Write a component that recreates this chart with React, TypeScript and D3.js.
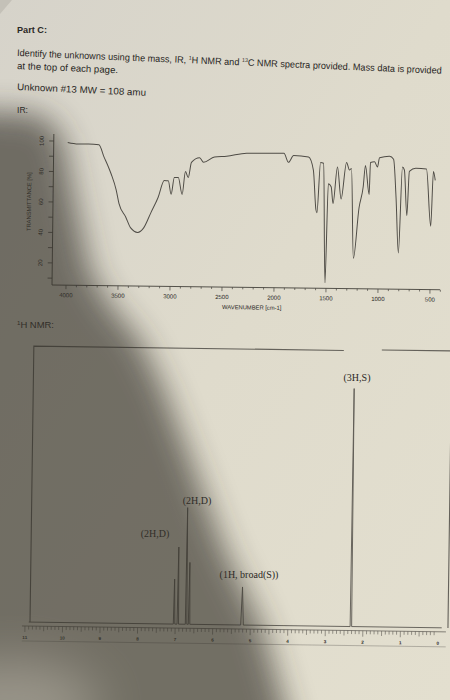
import React from 'react';
import * as d3 from 'd3';

// ---------- IR data (wavenumber cm-1, transmittance %) ----------
const irWavenumber = [4000, 3900, 3800, 3700, 3650, 3606, 3577, 3529, 3500, 3433, 3385, 3317, 3260, 3192, 3125, 3067, 3029, 3000, 2971, 2933, 2894, 2865, 2837, 2808, 2730, 2692, 2587, 2471, 2279, 2058, 1920, 1875, 1827, 1683, 1635, 1606, 1596, 1567, 1538, 1510, 1490, 1462, 1442, 1404, 1365, 1317, 1288, 1269, 1240, 1192, 1154, 1135, 1096, 1087, 1048, 1019, 1000, 904, 865, 837, 808, 779, 760, 731, 712, 650, 548, 500, 481, 462];
const irTransmittance = [99.1, 98.2, 98.3, 97.9, 90, 83.4, 78.5, 68.5, 59.5, 50.6, 43.6, 40.7, 43.7, 53.8, 63.8, 74.9, 74.9, 66, 77, 77, 66, 81, 77.1, 87.1, 90.2, 87.2, 90.8, 91.4, 93.5, 93.7, 93.8, 87.9, 92.4, 91.5, 83, 57, 55, 88.1, 87.6, 9.2, 74.2, 72.2, 61.2, 85.3, 64.3, 88.3, 83.3, 84.4, 25.4, 58.5, 72.5, 86.5, 67.5, 88.5, 89, 85.6, 91.6, 92.7, 90.7, 65.7, 29.3, 85.8, 83.8, 53.9, 82.9, 85, 84.6, 47.1, 83.1, 77.2];
const irYTickLabels = [20, 40, 60, 80, 100];
const irYMinorTicks = [10, 20, 30, 40, 50, 60, 70, 80, 90, 100];
const irXTickLabels = [4000, 3500, 3000, 2500, 2000, 1500, 1000, 500];

// ---------- 1H NMR data (ppm, relative height) ----------
const nmrPeakPpm = [7.03, 6.93, 6.71, 6.63, 5.22, 2.32];
const nmrPeakHeight = [18.9, 32.4, 49, 26, 16, 100];
const nmrPeakHalfWidth = [0.02, 0.02, 0.02, 0.02, 0.035, 0.02];
const nmrTickLabels = [11, 10, 9, 8, 7, 6, 5, 4, 3, 2, 1, 0];
const nmrAnnotations = ['(3H,S)', '(2H,D)', '(2H,D)', '(1H, broad(S))'];

export default function App() {
  // IR scales
  const irX = d3.scaleLinear().domain([4000, 500]).range([66, 430]);
  const irY = d3.scaleLinear().domain([5.5, 100]).range([285, 141]);
  const irPts: [number, number][] = irWavenumber.map((w, i) => [w, irTransmittance[i]]);
  const irLine = d3.line<[number, number]>().x(d => irX(d[0])).y(d => irY(d[1])).curve(d3.curveMonotoneX);
  const irMinorX = d3.range(4000, 399, -100);

  // NMR scales
  const nmrX = d3.scaleLinear().domain([11, 0]).range([25, 438]);
  const nmrY = d3.scaleLinear().domain([0, 100]).range([622, 384]);
  const order = d3.range(nmrPeakPpm.length).sort((a, b) => nmrPeakPpm[b] - nmrPeakPpm[a]);
  const specPts: [number, number][] = [[10.9, 0]];
  order.forEach(i => {
    specPts.push([nmrPeakPpm[i] + nmrPeakHalfWidth[i], 0]);
    specPts.push([nmrPeakPpm[i], nmrPeakHeight[i]]);
    specPts.push([nmrPeakPpm[i] - nmrPeakHalfWidth[i], 0]);
  });
  specPts.push([-0.1, 0]);
  const nmrLine = d3.line<[number, number]>().x(d => nmrX(d[0])).y(d => nmrY(d[1]));
  const nmrMinor = d3.range(0, 110, 1).map(v => 11 - v / 10);

  const ink = '#45423c';
  const text = '#2a2825';
  const sans = "'Liberation Sans', Arial, sans-serif";
  const serif = "'Liberation Serif', 'Times New Roman', serif";

  return (
    <svg width={450} height={700} style={{ position: 'absolute', left: 0, top: 0 }} xmlns="http://www.w3.org/2000/svg">
      <defs>
        <filter id="blur" x="-30%" y="-30%" width="160%" height="160%">
          <feGaussianBlur stdDeviation="15" />
        </filter>
        <filter id="blur2" x="-50%" y="-50%" width="200%" height="200%">
          <feGaussianBlur stdDeviation="25" />
        </filter>
        <linearGradient id="paper" x1="0" y1="0" x2="1" y2="1">
          <stop offset="0" stopColor="#d6d3ca" />
          <stop offset="0.5" stopColor="#dfdbcc" />
          <stop offset="1" stopColor="#e3dfcf" />
        </linearGradient>
      </defs>
      <rect x={0} y={0} width={450} height={700} fill="url(#paper)" />
      <polygon points="0,0 12,0 0,14" fill="#c4c1b8" />

      {/* Header text */}
      <text x={17} y={33} fontFamily={sans} fontSize={8.5} fontWeight="bold" fill={text} textLength={30} lengthAdjust="spacingAndGlyphs">Part C:</text>
      <g transform="rotate(2.4,17,56)">
        <text x={17} y={56} fontFamily={sans} fontSize={9.5} fill={text} textLength={425} lengthAdjust="spacingAndGlyphs">
          Identify the unknowns using the mass, IR, <tspan fontSize={5.5} dy={-3.5}>1</tspan><tspan dy={3.5}>H NMR and </tspan><tspan fontSize={5.5} dy={-3.5}>13</tspan><tspan dy={3.5}>C NMR spectra provided. Mass data is provided</tspan>
        </text>
      </g>
      <g transform="rotate(2.4,17,69)">
        <text x={17} y={69} fontFamily={sans} fontSize={9.5} fill={text} textLength={101} lengthAdjust="spacingAndGlyphs">at the top of each page.</text>
      </g>
      <g transform="rotate(2.6,17,90)">
        <text x={17} y={90} fontFamily={sans} fontSize={9.5} fill={text} textLength={129} lengthAdjust="spacingAndGlyphs">Unknown #13 MW = 108 amu</text>
      </g>
      <text x={17} y={113} fontFamily={sans} fontSize={8.5} fill={text} textLength={11} lengthAdjust="spacingAndGlyphs">IR:</text>

      {/* IR chart */}
      <g transform="rotate(0.7,52,285)">
        <line x1={52} x2={52} y1={134} y2={285} stroke={ink} strokeWidth={0.9} />
        <line x1={52} x2={440} y1={285} y2={285} stroke={ink} strokeWidth={0.9} />
        {irYMinorTicks.map(t => (
          <line key={'yt' + t} x1={47.5} x2={52} y1={irY(t)} y2={irY(t)} stroke={ink} strokeWidth={0.8} />
        ))}
        {irYTickLabels.map(t => (
          <text key={'yl' + t} transform={`translate(42,${irY(t)}) rotate(-90)`} textAnchor="middle" fontFamily={sans} fontSize={6} fill={text}>{t}</text>
        ))}
        <text transform={`translate(30,${irY(60)}) rotate(-90)`} textAnchor="middle" fontFamily={sans} fontSize={5.8} fill={text}>TRANSMITTANCE [%]</text>
        {irMinorX.map(w => (
          <line key={'xm' + w} x1={irX(w)} x2={irX(w)} y1={285} y2={w % 500 === 0 ? 289 : 287} stroke={ink} strokeWidth={0.7} />
        ))}
        {irXTickLabels.map(w => (
          <text key={'xl' + w} x={irX(w)} y={297} textAnchor="middle" fontFamily={sans} fontSize={6} fill={text}>{w}</text>
        ))}
        <text x={252} y={307} textAnchor="middle" fontFamily={sans} fontSize={5.8} fill={text}>WAVENUMBER [cm-1]</text>
        <path d={irLine(irPts) || ''} fill="none" stroke="#4f4c46" strokeWidth={1} />
      </g>

      <text x={17} y={328} fontFamily={sans} fontSize={8.5} fill={text} textLength={37} lengthAdjust="spacingAndGlyphs">
        <tspan fontSize={5.5} dy={-3.5}>1</tspan><tspan dy={3.5}>H NMR:</tspan>
      </text>

      {/* NMR chart */}
      <g transform="rotate(0.8,25,622)">
        <polyline points="30,622 30,346 340,346" fill="none" stroke="#64615a" strokeWidth={1.1} />
        <polyline points="378,345 448,345 448,622" fill="none" stroke="#64615a" strokeWidth={1.1} />
        <path d={nmrLine(specPts) || ''} fill="none" stroke="#5c5952" strokeWidth={0.9} />
        <line x1={22} x2={446} y1={626} y2={626} stroke="#6a665f" strokeWidth={0.8} />
        <line x1={22} x2={446} y1={641} y2={641} stroke="#8e8a82" strokeWidth={0.6} />
        {nmrMinor.map((v, i) => (
          <line key={'nm' + i} x1={nmrX(v)} x2={nmrX(v)} y1={626} y2={i % 10 === 0 ? 632 : i % 5 === 0 ? 631 : 629.5} stroke="#5d5a54" strokeWidth={0.6} />
        ))}
        {nmrTickLabels.map(t => (
          <text key={'nl' + t} x={nmrX(t)} y={639} textAnchor="middle" fontFamily={sans} fontSize={4.5} fontWeight="bold" fill={text}>{t}</text>
        ))}
      </g>
      <text x={357} y={381} textAnchor="middle" fontFamily={serif} fontSize={10} fill={text}>{nmrAnnotations[0]}</text>
      <text x={197} y={504} textAnchor="middle" fontFamily={serif} fontSize={10} fill={text}>{nmrAnnotations[1]}</text>
      <text x={155} y={537} textAnchor="middle" fontFamily={serif} fontSize={10} fill={text}>{nmrAnnotations[2]}</text>
      <text x={249} y={578} textAnchor="middle" fontFamily={serif} fontSize={10} fill={text}>{nmrAnnotations[3]}</text>

      {/* photo shadow */}
      <polygon
        points="-40,110 40,114 62,135 75,200 90,270 110,305 140,340 162,385 195,470 225,550 262,625 295,740 -40,740"
        fill="#35332c" opacity={0.64} filter="url(#blur)"
      />
      <ellipse cx={10} cy={705} rx={90} ry={45} fill="#e0dccd" opacity={0.35} filter="url(#blur2)" />
    </svg>
  );
}
